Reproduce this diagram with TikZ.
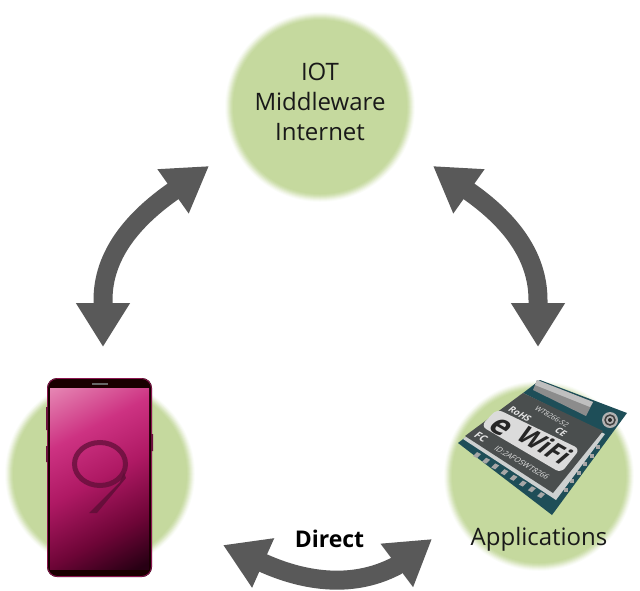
\documentclass[tikz,border=0pt]{standalone}
\usepackage{fontspec}
\setmainfont{Open Sans}
\usepackage{xcolor}
\usetikzlibrary{arrows.meta,calc}
\definecolor{discgreen}{RGB}{197,217,158}
\definecolor{arrowgrey}{RGB}{89,89,89}
\definecolor{phonepink}{RGB}{230,135,180}
\definecolor{phonelight}{RGB}{205,50,130}
\definecolor{phonemid}{RGB}{175,25,100}
\definecolor{phonedeep}{RGB}{110,5,55}
\definecolor{phonedark}{RGB}{40,0,20}
\definecolor{pcbteal}{RGB}{30,78,88}
\definecolor{shieldgrey}{RGB}{74,78,78}
\definecolor{rimgrey}{RGB}{205,208,208}
\pgfdeclareverticalshading{phonescreen}{100bp}{color(0bp)=(phonedark); color(18bp)=(phonedark);
  color(32bp)=(phonedeep); color(50bp)=(phonemid); color(66bp)=(phonelight);
  color(84bp)=(phonepink); color(100bp)=(phonepink)}
\tikzset{
  dblarrow/.style={draw=arrowgrey,line width=19pt,
    {Triangle[length=44pt,width=51pt]}-{Triangle[length=44pt,width=51pt]}},
  chiptext/.style={text=#1,rotate=-30,xslant=.35,inner sep=0pt},
  label/.style={font=\fontsize{24}{30}\selectfont,align=center,text=black!90}
}
\begin{document}
\begin{tikzpicture}[x=1pt,y=-1pt]
  \useasboundingbox (0,0) rectangle (640,590);
  % soft green discs
  \foreach \cx/\cy in {320/107,100/474,539/476}{
    \foreach \r/\k in {95/6,94/15,93/28,92/42,91/56,90/70,89/82,88/92,87/100}
      \fill[discgreen!\k!white] (\cx,\cy) circle (\r);
  }
  % phone
  \fill[rounded corners=10pt,fill=black!90!red] (47,378) rectangle (152,577);
  \draw[rounded corners=10pt,draw=phonemid!80!black,line width=.8pt] (47.5,378.5) rectangle (151.5,576.5);
  \shade[shading=phonescreen,shading angle=28] (50,388) rectangle (149,569);
  \draw[phonemid!55!black,line width=5pt,opacity=.75] (100,464) ellipse (25.5 and 21.5);
  \fill[phonemid!55!black,opacity=.85] (120,482) -- (124,472) -- (126,478) -- (97,513) -- (89,513) -- cycle;
  \fill[black!60] (92,383) rectangle (108,384.5);
  \fill[phonemid!60!black] (46,407) rectangle (48,430) (46,446) rectangle (48,462) (151,434) rectangle (153,451);
  % chip
  \fill[pcbteal] (458,443) -- (540,380) -- (627,413) -- (552,515) -- cycle;
  \foreach \t in {0,...,7}
    \fill[black!35] ($(476,454)!\t/7!(540,494)$) +(-3,2) -- +(1,-2) -- +(5,0) -- +(1,4) -- cycle;
  \foreach \t in {0,...,5}
    \fill[black!35] ($(566,490)!\t/5!(598,447)$) +(-2,-2) -- +(2,-2) -- +(2,2) -- +(-2,2) -- cycle;
  \fill[rimgrey] (463,439) -- (523,393) -- (605,434) -- (556,500) -- cycle;
  \fill[shieldgrey] (465,436) -- (523,393) -- (603,431) -- (553,493) -- cycle;
  \fill[rounded corners=6pt,fill=black!14] (497,409) -- (580,449) -- (561,473) -- (481,426) -- cycle;
  \fill[black!45] (533,390) -- (537,380) -- (593,402) -- (586,416) -- cycle;
  \fill[black!25] (537,380) -- (593,402) -- (590,407) -- (535,385) -- cycle;
  \fill[black!30] (610,420) circle (8);
  \draw[black!75,line width=1.5pt] (610,420) circle (5);
  \fill[black!85] (610,420) circle (2);
  \node[chiptext=black!85,font=\bfseries\fontsize{30}{30}\selectfont] (elogo) at (501,427) {e};
  \node[chiptext=black!85,font=\bfseries\fontsize{25}{25}\selectfont] (wifilabel) at (545,445) {WiFi};
  \node[chiptext=black!10,font=\bfseries\fontsize{9}{9}\selectfont] (rohs) at (520,414) {RoHS};
  \node[chiptext=black!10,font=\fontsize{7}{7}\selectfont] (model) at (552,417) {WT8266-S2};
  \node[chiptext=black!10,font=\bfseries\fontsize{9}{9}\selectfont] (ce) at (561,432) {CE};
  \node[chiptext=black!10,font=\bfseries\fontsize{10}{10}\selectfont] (fc) at (481,437) {FC};
  \node[chiptext=black!10,font=\fontsize{7.5}{7.5}\selectfont] (fccid) at (522,463) {ID:2AFOSWT8266};
  % labels
  \node[label] (middleware) at (320,102) {IOT\\Middleware\\Internet};
  \node[label] (applications) at (539,539.5) {Applications};
  \node[font=\bfseries\fontsize{23}{26}\selectfont] (direct) at (329.5,539) {Direct};
  % arrows
  \coordinate (phonetop) at (103,347);
  \coordinate (cloudleft) at (209,166);
  \coordinate (cloudright) at (433,166);
  \coordinate (chiptop) at (538,347);
  \coordinate (phoneside) at (223,545);
  \coordinate (chipside) at (432,539);
  \draw[dblarrow] (phonetop) -- (103,300) .. controls (103,255) and (133,219) .. (175,190) -- (cloudleft);
  \draw[dblarrow] (cloudright) -- (467,190) .. controls (509,219) and (538,255) .. (538,300) -- (chiptop);
  \draw[dblarrow] (phoneside) -- (261,562) .. controls (300,580) and (350,590) .. (396,566) -- (chipside);
\end{tikzpicture}
\end{document}
